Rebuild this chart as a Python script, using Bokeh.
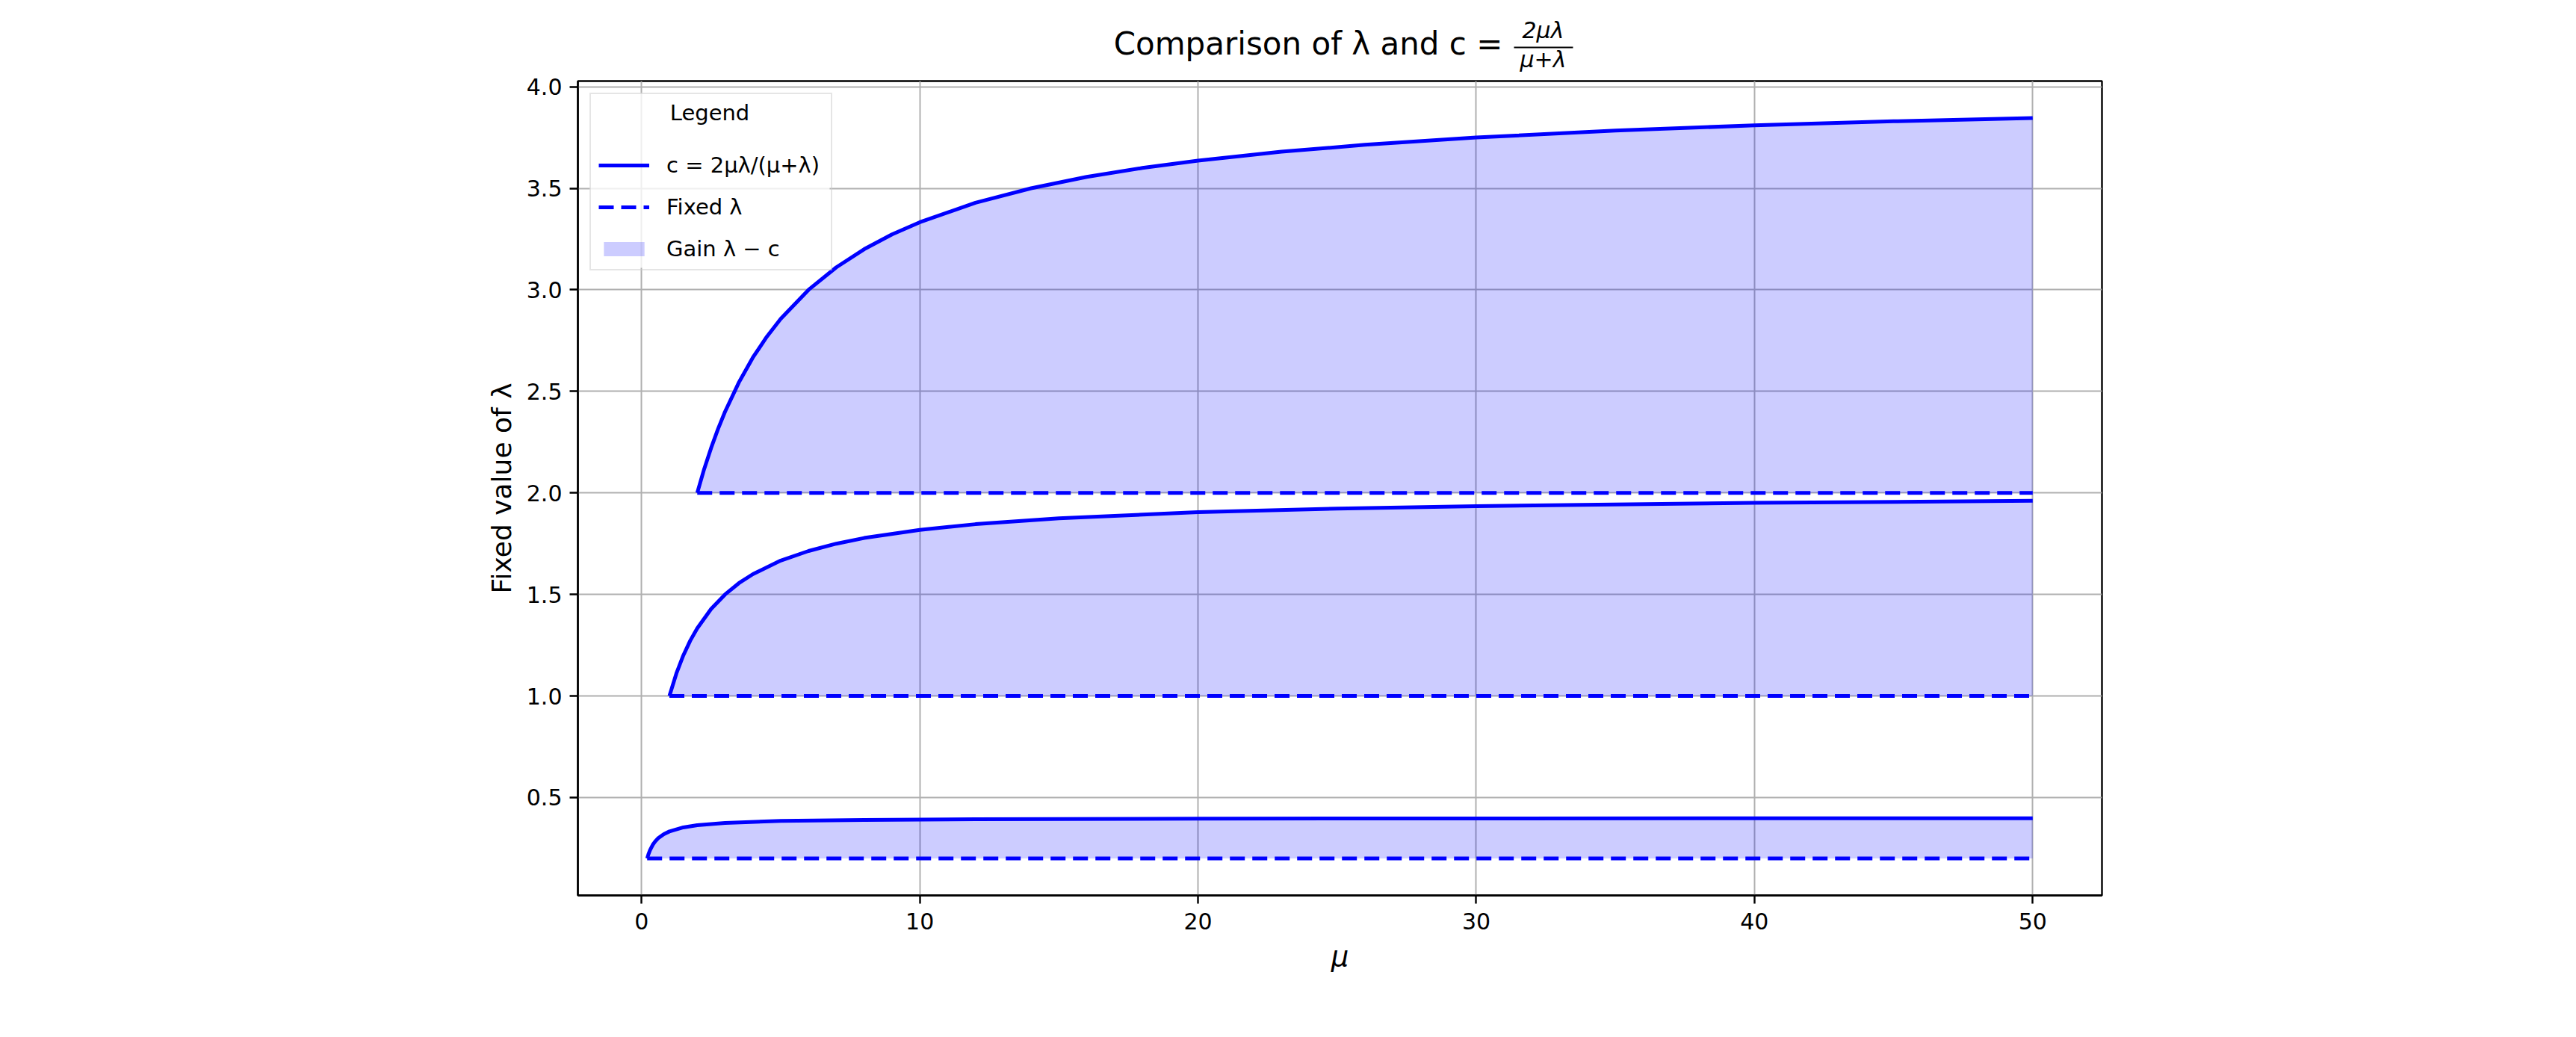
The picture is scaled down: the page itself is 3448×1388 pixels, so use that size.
from bokeh.plotting import figure
from bokeh.layouts import column
from bokeh.models import (Range1d, FixedTicker, Legend, LegendItem, Label,
                          BoxAnnotation, PrintfTickFormatter)
from bokeh.embed import file_html
from bokeh.resources import INLINE

# ---- data ----
LAMBDAS = [0.2, 1.0, 2.0]

MU_L02 = [0.2, 0.25, 0.3, 0.4, 0.5, 0.6, 0.8, 1.0, 1.5, 2, 3, 5, 8, 12, 20, 30, 50]
C_L02 = [0.200, 0.222, 0.240, 0.267, 0.286, 0.300, 0.320, 0.333, 0.353, 0.364,
         0.375, 0.385, 0.390, 0.393, 0.396, 0.397, 0.398]

MU_L1 = [1, 1.25, 1.5, 1.75, 2, 2.5, 3, 3.5, 4, 5, 6, 7, 8, 10, 12, 15, 20, 25, 30, 40, 50]
C_L1 = [1.000, 1.111, 1.200, 1.273, 1.333, 1.429, 1.500, 1.556, 1.600, 1.667, 1.714,
        1.750, 1.778, 1.818, 1.846, 1.875, 1.905, 1.923, 1.935, 1.951, 1.961]

MU_L2 = [2, 2.25, 2.5, 2.75, 3, 3.5, 4, 4.5, 5, 6, 7, 8, 9, 10, 12, 14, 16, 18, 20,
         23, 26, 30, 35, 40, 45, 50]
C_L2 = [2.000, 2.118, 2.222, 2.316, 2.400, 2.545, 2.667, 2.769, 2.857, 3.000, 3.111,
        3.200, 3.273, 3.333, 3.429, 3.500, 3.556, 3.600, 3.636, 3.680, 3.714, 3.750,
        3.784, 3.810, 3.830, 3.846]

X_TICKS = [0, 10, 20, 30, 40, 50]
Y_TICKS = [0.5, 1.0, 1.5, 2.0, 2.5, 3.0, 3.5, 4.0]

TITLE_TEXT = "Comparison of λ and c ="
FRAC_NUM = "2μλ"
FRAC_DEN = "μ+λ"
X_LABEL = "μ"
Y_LABEL = "Fixed value of λ"
LEGEND_TITLE = "Legend"
LEGEND_LABELS = ["c = 2μλ/(μ+λ)", "Fixed λ", "Gain λ − c"]

FONT = "DejaVu Sans"
BLUE = "#0000ff"
W = 3440
STRIP_H = 98
FRAME_L, FRAME_R = 773, 2813          # page pixels of the plot frame edges

# ---- title strip (own canvas; its frame is aligned with the main frame by the column) ----
tp = figure(width=W, height=STRIP_H, output_backend="svg", toolbar_location=None,
            title=None, x_range=Range1d(FRAME_L, FRAME_R), y_range=Range1d(STRIP_H, 0),
            x_axis_type=None, y_axis_type=None, min_border=0,
            min_border_left=FRAME_L, min_border_right=W - FRAME_R)
tp.outline_line_color = None
tp.background_fill_color = "white"
tp.border_fill_color = "white"
tp.grid.visible = False


def strip_label(x, y, text, size, align, style="normal"):
    tp.add_layout(Label(x=x, y=y, x_units="data", y_units="data",
                        text=text, text_align=align, text_baseline="middle",
                        text_font=FONT, text_font_size=size, text_font_style=style,
                        text_color="black"))


strip_label(2011, 58, TITLE_TEXT, "42px", "right")
strip_label(2065, 40, FRAC_NUM, "30px", "center", "italic")
strip_label(2065, 79, FRAC_DEN, "30px", "center", "italic")
tp.segment(x0=[2026], y0=[63], x1=[2105], y1=[63], line_color="black", line_width=2)

# ---- main plot ----
p = figure(width=W, height=1284, output_backend="svg", toolbar_location=None,
           title=None, x_range=Range1d(-2.29, 52.49), y_range=Range1d(0.018, 4.028),
           min_border_left=FRAME_L, min_border_right=W - FRAME_R, min_border_top=10,
           min_border_bottom=184)
p.background_fill_color = "white"
p.border_fill_color = "white"
p.outline_line_color = "black"
p.outline_line_width = 2.4

for ax in (p.xaxis[0], p.yaxis[0]):
    ax.axis_line_color = "black"
    ax.axis_line_width = 2.4
    ax.major_tick_line_color = "black"
    ax.major_tick_line_width = 2.4
    ax.major_tick_out = 11
    ax.major_tick_in = 0
    ax.minor_tick_line_color = None
    ax.major_label_text_font = FONT
    ax.major_label_text_font_size = "30px"
    ax.major_label_text_color = "black"
    ax.axis_label_text_font = FONT
    ax.axis_label_text_color = "black"

p.xaxis.ticker = FixedTicker(ticks=X_TICKS)
p.yaxis.ticker = FixedTicker(ticks=Y_TICKS)
p.yaxis.formatter = PrintfTickFormatter(format="%.1f")
p.xaxis.major_label_standoff = 12
p.yaxis.major_label_standoff = 10
p.xaxis.axis_label = X_LABEL
p.xaxis.axis_label_text_font_size = "37px"
p.xaxis.axis_label_text_font_style = "italic"
p.xaxis.axis_label_standoff = 12
p.yaxis.axis_label = Y_LABEL
p.yaxis.axis_label_text_font_size = "36px"
p.yaxis.axis_label_text_font_style = "normal"
p.yaxis.axis_label_standoff = 10

p.xgrid.ticker = FixedTicker(ticks=X_TICKS)
p.ygrid.ticker = FixedTicker(ticks=Y_TICKS)
for g in (p.xgrid[0], p.ygrid[0]):
    g.grid_line_color = "#b0b0b0"
    g.grid_line_width = 2

curves, dashes, areas = [], [], []
for lam, mu, c in zip(LAMBDAS, [MU_L02, MU_L1, MU_L2], [C_L02, C_L1, C_L2]):
    base = [lam] * len(mu)
    curves.append(p.line(mu, c, line_color=BLUE, line_width=5))
    dashes.append(p.line(mu, base, line_color=BLUE, line_width=5, line_dash="20 10"))
    areas.append(p.varea(x=mu, y1=base, y2=c, fill_color=BLUE, fill_alpha=0.2))

# legend: its translucent white background is drawn as a box below it, so that the
# centred "Legend" heading can sit on top
LEG_M, LEG_W, LEG_H = 16, 321, 234
FRAME_H = 1090
p.add_layout(BoxAnnotation(left=LEG_M, right=LEG_M + LEG_W,
                           top=FRAME_H - LEG_M, bottom=FRAME_H - LEG_M - LEG_H,
                           left_units="screen", right_units="screen",
                           top_units="screen", bottom_units="screen",
                           fill_color="white", fill_alpha=0.8, line_color=None))
p.add_layout(Label(x=LEG_M + LEG_W / 2, y=1048, x_units="screen", y_units="screen",
                   text=LEGEND_TITLE, text_align="center", text_baseline="middle",
                   text_font=FONT, text_font_size="29px", text_color="black"))

legend = Legend(items=[LegendItem(label=LEGEND_LABELS[0], renderers=[curves[0]]),
                       LegendItem(label=LEGEND_LABELS[1], renderers=[dashes[0]]),
                       LegendItem(label=LEGEND_LABELS[2], renderers=[areas[0]])],
                location="top_left", margin=LEG_M, padding=10, spacing=22,
                glyph_width=68, glyph_height=24, label_height=24, label_width=210,
                label_standoff=23,
                label_text_font=FONT, label_text_font_size="29px",
                label_text_color="black",
                title=LEGEND_TITLE, title_text_font=FONT, title_text_font_size="29px",
                title_text_font_style="normal", title_text_color="black",
                title_text_alpha=0.0, title_standoff=34,
                background_fill_color="white", background_fill_alpha=0.0,
                border_line_color="#cccccc", border_line_width=2)
p.add_layout(legend)

layout = column(tp, p, spacing=0)
open("out.html", "w").write(file_html(layout, INLINE))
